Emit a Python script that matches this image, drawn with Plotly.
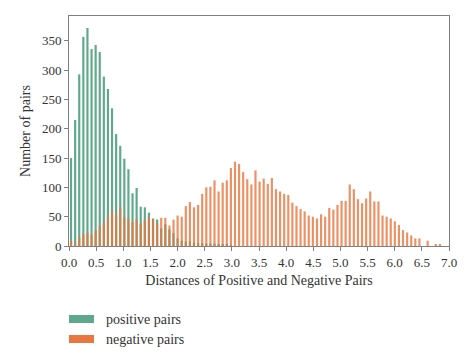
import plotly.graph_objects as go

BIN_WIDTH = 0.0755
positive_counts = [150, 215, 293, 357, 372, 336, 343, 331, 289, 268, 235, 191, 171, 149, 131,
                   90, 99, 67, 66, 57, 47, 45, 30, 37, 28, 22, 13, 9, 8, 8, 6, 5, 5, 4, 4, 4,
                   3, 3, 2, 1] + [0] * 51
negative_counts = [9, 5, 15, 20, 23, 19, 27, 34, 40, 50, 60, 53, 66, 49, 47, 41, 46, 38, 44, 50,
                   46, 38, 48, 48, 35, 45, 52, 50, 68, 75, 66, 70, 89, 100, 101, 112, 93, 108, 112,
                   133, 144, 140, 126, 114, 105, 129, 110, 115, 106, 116, 97, 93, 89, 87, 74, 68,
                   63, 59, 52, 50, 47, 54, 50, 65, 62, 70, 77, 77, 105, 97, 80, 73, 81, 93, 76, 76,
                   52, 50, 47, 42, 36, 27, 23, 18, 13, 13, 0, 9, 0, 2, 2]
bin_centers = [(i + 0.5) * BIN_WIDTH for i in range(len(negative_counts))]

x_ticks = [0.0, 0.5, 1.0, 1.5, 2.0, 2.5, 3.0, 3.5, 4.0, 4.5, 5.0, 5.5, 6.0, 6.5, 7.0]
x_tick_labels = [f"{v:.1f}" for v in x_ticks]
y_ticks = [0, 50, 100, 150, 200, 250, 300, 350]
series_names = ["positive pairs", "negative pairs"]
GREEN = "#5ea98b"
ORANGE = "#e8763f"

FONT = "Liberation Serif"
fig = go.Figure()
fig.add_trace(go.Bar(x=bin_centers, y=positive_counts, width=0.04, name=series_names[0],
                     marker=dict(color=GREEN, line=dict(width=0)), showlegend=False))
fig.add_trace(go.Bar(x=bin_centers, y=negative_counts, width=0.04, name=series_names[1],
                     marker=dict(color=ORANGE, line=dict(width=0)), opacity=0.8,
                     showlegend=False))

# page has an 8px body margin; figure is sized so the plot lands where the reference has it
OFF = 8
L, R, T, B = 61, 25, 8, 118
W, H = 466, 356
pw, ph = W - L - R, H - T - B

fig.update_layout(
    width=W, height=H, barmode="overlay",
    margin=dict(l=L, r=R, t=T, b=B, pad=0, autoexpand=False),
    paper_bgcolor="white", plot_bgcolor="white",
    font=dict(family=FONT, size=13, color="#333333"),
    xaxis=dict(range=[0, 7.0], tickmode="array", tickvals=x_ticks, ticktext=x_tick_labels,
               showgrid=False, zeroline=False, showline=True, mirror=True, automargin=False,
               linecolor="#808080", linewidth=1, ticks="outside", ticklen=4,
               tickcolor="#808080", tickfont=dict(size=13),
               title=dict(text="Distances of Positive and Negative Pairs",
                          font=dict(size=14), standoff=6)),
    yaxis=dict(range=[0, 392.5], tickmode="array", tickvals=y_ticks,
               showgrid=False, zeroline=False, showline=True, mirror=True, automargin=False,
               linecolor="#808080", linewidth=1, ticks="outside", ticklen=4,
               tickcolor="#808080", tickfont=dict(size=13),
               title=dict(text="Number of pairs", font=dict(size=14), standoff=8)),
)

# manual legend below the plot (page pixel rows)
legend_rows = [(315, 323, 319, series_names[0], GREEN), (335, 343, 339, series_names[1], ORANGE)]
for top, bot, mid, name, col in legend_rows:
    fig.add_shape(type="rect", xref="paper", yref="paper",
                  x0=0, x1=25 / pw,
                  y0=(T + ph - (top - OFF)) / ph, y1=(T + ph - (bot - OFF)) / ph,
                  fillcolor=col, line=dict(width=0))
    fig.add_annotation(xref="paper", yref="paper", x=35 / pw, y=(T + ph - (mid - OFF)) / ph,
                       text=name, showarrow=False, xanchor="left", yanchor="middle",
                       font=dict(size=14, family=FONT, color="#333333"))

fig.write_html("out.html")
